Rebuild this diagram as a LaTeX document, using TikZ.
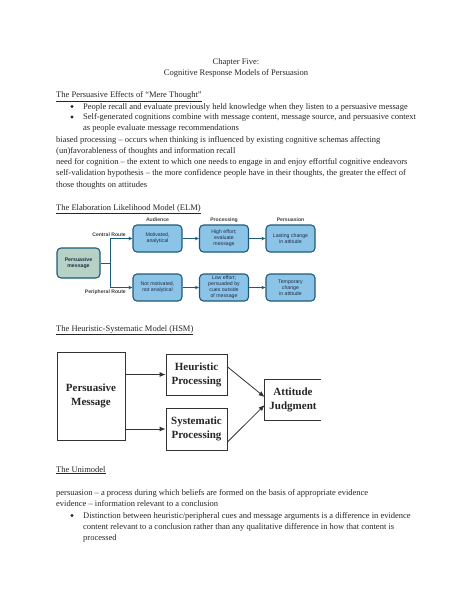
\documentclass[tikz,border=0pt]{standalone}
\usepackage{fontspec}
\setmainfont{Liberation Serif}
\newfontfamily\elmfont{Liberation Sans}
\usetikzlibrary{arrows.meta,positioning}
\definecolor{elmfill}{RGB}{140,196,232}
\definecolor{elmedge}{RGB}{28,92,122}
\definecolor{msgfill}{RGB}{182,210,196}
\definecolor{elmtext}{RGB}{30,45,70}

\begin{document}
\begin{tikzpicture}[x=1pt,y=-1pt,
  line/.style={anchor=base west,inner sep=0pt,font=\fontsize{8.5}{11}\selectfont,text=black!85},
  title/.style={anchor=base,inner sep=0pt,font=\fontsize{8.5}{11}\selectfont,text=black!85},
  dot/.style={circle,fill=black!85,inner sep=0pt,minimum size=3.4pt},
  elmbox/.style={draw=elmedge,line width=1.1pt,rounded corners=4pt,fill=elmfill,minimum width=49pt,minimum height=27pt,inner sep=1pt,align=center,text=elmtext,font=\elmfont\fontsize{5.2}{6}\selectfont},
  elmmsg/.style={elmbox,fill=msgfill,minimum width=43pt,minimum height=30pt,font=\elmfont\bfseries\fontsize{5.2}{6}\selectfont},
  elmlabel/.style={inner sep=0pt,text=black!75,font=\elmfont\bfseries\fontsize{5.1}{6}\selectfont},
  elmline/.style={draw=elmedge,line width=0.9pt},
  hsmbox/.style={draw=black!80,line width=0.8pt,inner sep=0pt,align=center,font=\bfseries\fontsize{11}{14}\selectfont,text=black!85},
  hsmline/.style={draw=black!80,line width=0.8pt}]
  \fill[white] (0,0) rectangle (474,613);
  \useasboundingbox (0,0) rectangle (474,613);

  \node[title] (ch) at (236,64) {Chapter Five:};
  \node[title] (chname) at (236,75) {Cognitive Response Models of Persuasion};

  \node[line] (h1) at (56,97.5) {\underline{The Persuasive Effects of “Mere Thought”}};
  \node[dot] (d1) at (72,106.5) {};
  \node[line] (b1) at (83,109) {People recall and evaluate previously held knowledge when they listen to a persuasive message};
  \node[dot] (d2) at (72,117) {};
  \node[line] (b2) at (83,119.5) {Self-generated cognitions combine with message content, message source, and persuasive context};
  \node[line] (b2b) at (83,130.5) {as people evaluate message recommendations};
  \node[line] (bias) at (56,142) {biased processing – occurs when thinking is influenced by existing cognitive schemas affecting};
  \node[line] (biasb) at (56,153.5) {(un)favorableness of thoughts and information recall};
  \node[line] (need) at (56,164.5) {need for cognition – the extent to which one needs to engage in and enjoy effortful cognitive endeavors};
  \node[line] (selfv) at (56,175.5) {self-validation hypothesis – the more confidence people have in their thoughts, the greater the effect of};
  \node[line] (selfvb) at (56,187) {those thoughts on attitudes};

  % ELM
  \node[line] (h2) at (56,210) {\underline{The Elaboration Likelihood Model (ELM)}};
  \node[elmlabel] (aud) at (157.5,220) {Audience};
  \node[elmlabel] (proc) at (224,220) {Processing};
  \node[elmlabel] (pers) at (290.5,220) {Persuasion};
  \node[elmmsg] (msg) at (78.5,263) {Persuasive\\message};
  \node[elmbox] (mot) at (157.5,238.5) {Motivated,\\analytical};
  \node[elmbox] (high) at (224,238.5) {High effort;\\evaluate\\message};
  \node[elmbox] (last) at (290.5,238.5) {Lasting change\\in attitude};
  \node[elmbox] (notmot) at (157.5,287.5) {Not motivated,\\not analytical};
  \node[elmbox] (low) at (224,287.5) {Low effort;\\persuaded by\\cues outside\\of message};
  \node[elmbox] (temp) at (290.5,287.5) {Temporary\\change\\in attitude};
  \node[elmlabel,anchor=east] (central) at (126,235) {Central Route};
  \node[elmlabel,anchor=east] (periph) at (126,292) {Peripheral Route};
  \coordinate (fork) at (110,263);

  \draw[elmline] (msg) -- (fork);
  \draw[elmline,-{Stealth[length=4pt,width=3.5pt]}] (fork) |- (mot);
  \draw[elmline,-{Stealth[length=4pt,width=3.5pt]}] (fork) |- (notmot);
  \draw[elmline,-{Stealth[length=4pt,width=3.5pt]}] (mot) -- (high);
  \draw[elmline,-{Stealth[length=4pt,width=3.5pt]}] (high) -- (last);
  \draw[elmline,-{Stealth[length=4pt,width=3.5pt]}] (notmot) -- (low);
  \draw[elmline,-{Stealth[length=4pt,width=3.5pt]}] (low) -- (temp);

  % HSM
  \node[line] (h3) at (56,331) {\underline{The Heuristic-Systematic Model (HSM)}};
  \node[hsmbox,minimum width=68pt,minimum height=88pt] (pm) at (91,396) {Persuasive\\Message};
  \node[hsmbox,minimum width=61pt,minimum height=41pt] (heur) at (196.5,374.5) {Heuristic\\Processing};
  \node[hsmbox,minimum width=61pt,minimum height=42pt] (sys) at (196.5,429) {Systematic\\Processing};
  \node[hsmbox,draw=none,minimum width=56pt,minimum height=40pt] (att) at (293,400) {Attitude\\Judgment};
  \draw[hsmline] (att.north east) -- (att.north west) -- (att.south west) -- (att.south east);

  \draw[hsmline,-{Latex[length=6pt,width=5pt]}] (heur.west -| pm.east) -- (heur.west);
  \draw[hsmline,-{Latex[length=6pt,width=5pt]}] (sys.west -| pm.east) -- (sys.west);
  \draw[hsmline,-{Latex[length=6pt,width=5pt]}] (heur.14) -- (att.174);
  \draw[hsmline,-{Latex[length=6pt,width=5pt]}] (sys.-23) -- (att.190);

  % Unimodel
  \node[line] (h4) at (56,472) {\underline{The Unimodel}};
  \node[line] (persu) at (56,495.5) {persuasion – a process during which beliefs are formed on the basis of appropriate evidence};
  \node[line] (evid) at (56,506.5) {evidence – information relevant to a conclusion};
  \node[dot] (d3) at (72,515.5) {};
  \node[line] (b3) at (83,518) {Distinction between heuristic/peripheral cues and message arguments is a difference in evidence};
  \node[line] (b3b) at (83,529.5) {content relevant to a conclusion rather than any qualitative difference in how that content is};
  \node[line] (b3c) at (83,540.5) {processed};
\end{tikzpicture}
\end{document}
